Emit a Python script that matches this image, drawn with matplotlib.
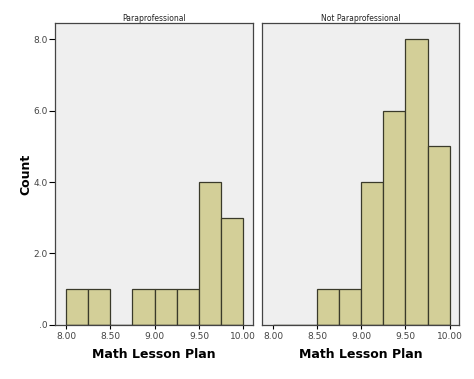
import numpy as np
import matplotlib
matplotlib.use('Agg')
import matplotlib.pyplot as plt

# histogram bins (width .25) and counts per panel
bin_edges = [8.00, 8.25, 8.50, 8.75, 9.00, 9.25, 9.50, 9.75, 10.00]
para_counts = [1, 1, 0, 1, 1, 1, 4, 3]
notpara_counts = [0, 0, 1, 1, 4, 6, 8, 5]
panel_titles = ['Paraprofessional', 'Not Paraprofessional']
xticks = [8.00, 8.50, 9.00, 9.50, 10.00]
xticklabels = ['8.00', '8.50', '9.00', '9.50', '10.00']
yticks = [0, 2, 4, 6, 8]
yticklabels = ['.0', '2.0', '4.0', '6.0', '8.0']

bar_color = '#d3cf98'
edge_color = '#3a3a2a'
panel_bg = '#efefef'

fig = plt.figure(figsize=(4.74, 3.79), dpi=100)
ax1 = fig.add_axes([0.116, 0.1425, 0.418, 0.797])
ax2 = fig.add_axes([0.553, 0.1425, 0.416, 0.797])

widths = np.diff(bin_edges)
for ax, counts, title in [(ax1, para_counts, panel_titles[0]),
                          (ax2, notpara_counts, panel_titles[1])]:
    ax.set_facecolor(panel_bg)
    ax.bar(bin_edges[:-1], counts, width=widths, align='edge',
           color=bar_color, edgecolor=edge_color, linewidth=0.9)
    # zero-height bins show as a line on the baseline
    ax.hlines(0, bin_edges[0], bin_edges[-1], color=edge_color, lw=0.9, zorder=3)
    ax.set_xlim(7.876, 10.11)
    ax.set_ylim(0, 8.45)
    ax.set_xticks(xticks)
    ax.set_xticklabels(xticklabels, fontsize=6.5, color='#444444')
    ax.tick_params(axis='x', length=3, width=0.8, pad=2)
    for s in ax.spines.values():
        s.set_color('#444444')
        s.set_linewidth(0.9)
    ax.set_title(title, fontsize=5.5, pad=1.5, color='#222222')
    ax.set_xlabel('Math Lesson Plan', fontsize=9, fontweight='bold', labelpad=5)

ax1.set_yticks(yticks)
ax1.set_yticklabels(yticklabels, fontsize=6.5, color='#444444')
ax1.tick_params(axis='y', length=4, width=0.8, pad=1)
ax1.set_ylabel('Count', fontsize=9, fontweight='bold', labelpad=1)
ax2.set_yticks([])

fig.savefig('out.png', dpi=100)
